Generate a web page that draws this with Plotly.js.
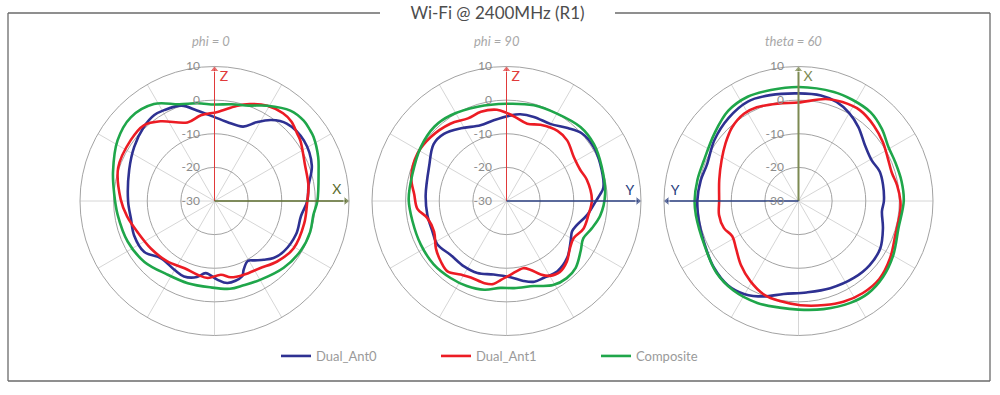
<!DOCTYPE html>
<html><head><meta charset="utf-8">
<script src="https://cdn.plot.ly/plotly-3.0.1.min.js"></script>
<style>html,body{margin:0;padding:0;background:#fff}#chart{width:1000px;height:395px}</style>
</head><body><div id="chart"></div>
<script>
// ---------- data (dB, angle in degrees clockwise from the top of each plot) ----------
const SERIES_NAMES = ['Dual_Ant0', 'Dual_Ant1', 'Composite'];
const PANEL_TITLES = ['phi = 0', 'phi = 90', 'theta = 60'];
const RADIAL_TICKS = [-30, -20, -10, 0, 10];
const R_MIN = -30, R_MAX = 10;

// phi = 0
const p1_ant0_theta = [9,21,28,35,43,56,70,81,90,100,112,126,134,140,146,151,157,160,171,178,187,193,202,210,223,234,247,258,270,290,304,316,325,331,341,349,357];
const p1_ant0_r     = [-6.2,-6.3,-3.5,-0.6,1.5,2.1,0.8,-1.7,-2.4,-3.9,-3.8,-4.5,-5.6,-7.2,-8.7,-9.6,-7.8,-6.1,-5.3,-6.6,-8.4,-6.8,-5.8,-6.3,-6.7,-4.2,-4.0,-4.6,-4.3,-3.0,-1.2,0.4,1.2,0.9,0.0,-2.6,-4.5];
const p1_ant1_theta = [2,13,20,29,38,44,51,55,68,81,90,104,121,134,146,158,168,175,185,193,204,218,233,248,260,271,289,306,317,326,341,351];
const p1_ant1_r     = [-3.5,-1.0,0.7,2.4,3.1,2.9,1.7,1.2,-1.0,-1.7,-2.4,-2.5,-2.6,-4.1,-5.9,-6.4,-6.8,-8.0,-7.0,-7.5,-8.1,-7.2,-6.4,-5.3,-3.6,-2.1,0.3,0.8,0.8,-1.4,-5.3,-4.2];
const p1_comp_theta = [0,10,20,29,40,48,53,57,67,74,90,98,108,120,134,150,161,170,183,198,213,229,245,262,274,286,302,315,328,340,350];
const p1_comp_r     = [-1.3,-0.8,0.2,2.4,5.1,5.7,5.4,5.1,3.5,2.2,0.6,-0.3,-0.1,-0.4,-1.4,-2.9,-3.5,-3.5,-4.3,-4.3,-4.0,-2.4,-1.5,-0.9,-0.1,1.4,4.0,5.2,4.0,0.6,-0.5];

// phi = 90
const p2_ant0_theta = [3,9,18,30,40,48,58,68,82,86,90,100,109,115,122,133,144,154,161,168,177,190,202,213,226,238,248,260,274,294,308,317,328,341,351];
const p2_ant0_r     = [-4.5,-3.9,-3.7,-3.6,-1.7,0.1,0.5,0.0,-0.9,-2.1,-3.4,-5.7,-7.9,-8.5,-7.5,-5.3,-4.2,-4.6,-4.6,-5.7,-7.3,-7.8,-6.9,-6.8,-6.9,-5.7,-6.2,-6.1,-5.9,-4.8,-2.5,-2.7,-4.5,-6.2,-5.7];
const p2_ant1_theta = [0,6,15,24,36,45,57,67,75,89,100,110,119,127,135,143,150,155,161,166,177,184,189,195,205,212,220,227,236,247,258,265,274,284,298,310,324,335,344,354];
const p2_ant1_r     = [-3.8,-4.9,-6.2,-5.2,-4.2,-4.5,-6.1,-6.2,-5.3,-4.6,-5.3,-5.7,-7.2,-6.4,-4.6,-3.6,-4.3,-5.9,-8.4,-9.4,-8.0,-6.5,-5.0,-4.7,-4.9,-4.2,-2.7,-3.4,-4.7,-6.6,-5.9,-3.4,-2.5,-0.8,0.0,-0.5,-1.6,-2.9,-2.4,-2.7];
const p2_comp_theta = [0,16,30,45,57,70,86,99,108,116,124,134,142,151,162,175,184,194,205,216,229,243,258,271,286,302,316,327,343];
const p2_comp_r     = [-1.1,-0.4,0.0,1.1,1.0,0.1,-0.6,-1.8,-3.4,-4.6,-3.4,-1.4,-0.9,-1.4,-3.4,-4.0,-4.1,-2.8,-2.1,-1.7,-1.3,-1.4,-1.4,-0.9,-0.9,0.1,0.8,0.4,-0.7];

// theta = 60
const p3_ant0_theta = [0,12,21,30,39,50,61,70,79,90,97,108,120,132,144,160,175,189,200,210,220,232,243,258,270,282,292,306,320,333,345];
const p3_ant0_r     = [2.0,2.1,1.6,0.2,-1.7,-4.2,-5.1,-4.3,-4.4,-4.6,-5.0,-3.6,-1.9,-1.5,-1.8,-2.4,-2.7,-2.0,0.2,2.0,2.7,2.0,0.9,0.2,0.1,-0.3,-0.7,0.9,2.3,3.2,2.6];
const p3_ant1_theta = [0,15,24,34,45,55,64,73,81,90,96,109,122,134,145,156,166,179,190,200,211,222,233,242,250,260,270,285,298,308,318,328,336,348];
const p3_ant1_r     = [-0.7,1.4,2.2,2.6,1.7,0.6,-0.5,-1.0,-0.3,0.3,0.4,0.5,2.1,3.4,3.4,2.8,1.9,1.0,0.3,-0.3,-2.2,-4.4,-6.7,-7.7,-6.4,-6.0,-6.4,-5.6,-4.1,-2.4,-0.5,0.6,0.5,-0.4];
const p3_comp_theta = [0,18,28,39,49,59,68,79,90,105,120,132,143,153,167,180,190,202,216,229,245,262,270,282,293,309,322,334,346];
const p3_comp_r     = [3.9,4.1,4.1,4.0,2.8,1.2,1.0,1.2,1.3,0.8,2.5,3.8,4.4,4.0,3.0,2.3,2.2,2.7,2.9,2.4,0.9,0.8,0.9,0.7,0.6,2.1,4.0,4.5,4.0];

// ---------- styling ----------
const COLORS = ['#2e3192', '#ec1c24', '#1fa64a'];
const FONT = 'Lato, "Open Sans", sans-serif';
const W = 1000, H = 395;
const CENTERS_X = [214.5, 506.5, 798.5], CENTER_Y = 201, RADIUS = 134.5;
const PAD = '\u00a0'.repeat(4);

const panels = [
  {series: [[p1_ant0_theta,p1_ant0_r],[p1_ant1_theta,p1_ant1_r],[p1_comp_theta,p1_comp_r]],
   axes: [{theta: 0, color: '#e03a3a', label: 'Z', sym: 'triangle-up', w: 1, lt: 4.4, lr: 6.7},
          {theta: 90, color: '#5b6b2c', label: 'X', sym: 'triangle-right', w: 1.3, lt: 85.3, lr: 6.5}]},
  {series: [[p2_ant0_theta,p2_ant0_r],[p2_ant1_theta,p2_ant1_r],[p2_comp_theta,p2_comp_r]],
   axes: [{theta: 0, color: '#e03a3a', label: 'Z', sym: 'triangle-up', w: 1, lt: 4.3, lr: 6.7},
          {theta: 90, color: '#2b3f80', label: 'Y', sym: 'triangle-right', w: 1.3, lt: 85.4, lr: 6.8}]},
  {series: [[p3_ant0_theta,p3_ant0_r],[p3_ant1_theta,p3_ant1_r],[p3_comp_theta,p3_comp_r]],
   axes: [{theta: 0, color: '#7d8a52', label: 'X', sym: 'triangle-up', w: 2, lt: 4.4, lr: 6.7},
          {theta: 270, color: '#2b3f80', label: 'Y', sym: 'triangle-left', w: 1.3, lt: 274.6, lr: 6.8}]}
];

const close = a => a.concat([a[0]]);
const traces = [];
const layout = {
  width: W, height: H,
  margin: {l: 0, r: 0, t: 0, b: 0},
  paper_bgcolor: '#fff',
  font: {family: FONT, color: '#888'},
  showlegend: true,
  title: {text: 'Wi-Fi @ 2400MHz (R1)', x: 0.4975, xref: 'paper', xanchor: 'center',
          y: 1 - 13 / H, yref: 'paper', yanchor: 'middle',
          font: {family: FONT, size: 17, color: '#4d4d4d'}},
  legend: {orientation: 'h', x: 0.276, xanchor: 'left', y: 1 - 356 / H, yanchor: 'middle',
           font: {family: FONT, size: 13, color: '#9a9a9a'},
           entrywidth: 115, entrywidthmode: 'pixels', bgcolor: 'rgba(0,0,0,0)'},
  annotations: [],
  shapes: []
};

panels.forEach((p, i) => {
  const key = i === 0 ? 'polar' : 'polar' + (i + 1);
  const cx = CENTERS_X[i];
  layout[key] = {
    domain: {x: [(cx - RADIUS) / W, (cx + RADIUS) / W],
             y: [1 - (CENTER_Y + RADIUS) / H, 1 - (CENTER_Y - RADIUS) / H]},
    bgcolor: '#fff',
    radialaxis: {range: [R_MIN, R_MAX], tickvals: RADIAL_TICKS, ticktext: RADIAL_TICKS.map(t => String(t) + PAD),
                 angle: 90, side: 'counterclockwise', showline: false, ticks: '',
                 gridcolor: '#a3a3a3', gridwidth: 1, tickangle: 90,
                 tickfont: {family: FONT, size: 12, color: '#8c8c8c'}},
    angularaxis: {rotation: 90, direction: 'clockwise', dtick: 30, showticklabels: false, ticks: '',
                  gridcolor: '#d6d6d6', gridwidth: 1, linecolor: '#a3a3a3', linewidth: 1, showline: true}
  };
  p.series.forEach((s, j) => {
    traces.push({type: 'scatterpolar', subplot: key, name: SERIES_NAMES[j], legendgroup: SERIES_NAMES[j],
                 showlegend: i === 0, mode: 'lines', theta: close(s[0]), r: close(s[1]),
                 line: {color: COLORS[j], width: 2.6, shape: 'spline', smoothing: 1}, hoverinfo: 'skip'});
  });
  p.axes.forEach(a => {
    traces.push({type: 'scatterpolar', subplot: key, showlegend: false, mode: 'lines+markers',
                 theta: [a.theta, a.theta], r: [R_MIN, R_MAX - 0.9], cliponaxis: false,
                 line: {color: a.color, width: a.w},
                 marker: {color: a.color, size: [0, 8], symbol: ['circle', a.sym]}, hoverinfo: 'skip'});
    traces.push({type: 'scatterpolar', subplot: key, showlegend: false, mode: 'text',
                 theta: [a.lt], r: [a.lr], text: [a.label], textposition: 'middle center', cliponaxis: false,
                 textfont: {family: FONT, size: 14, color: a.color}, hoverinfo: 'skip'});
  });
  layout.annotations.push({text: PANEL_TITLES[i], x: [211, 497, 793][i] / W, y: 1 - 41 / H,
                           xref: 'paper', yref: 'paper', showarrow: false, xanchor: 'center', yanchor: 'middle',
                           font: {family: FONT, size: 13, color: '#a8a8a8', style: 'italic'}});
});

// frame around the figure, broken by the title
const fx0 = 8 / W, fx1 = 990 / W, fy0 = 1 - 381 / H, fy1 = 1 - 13 / H;
const frameLine = {color: '#6a6a6a', width: 1.3};
[[fx0, fy0, fx0, fy1], [fx1, fy0, fx1, fy1], [fx0, fy0, fx1, fy0],
 [fx0, fy1, 380 / W, fy1], [615 / W, fy1, fx1, fy1]].forEach(c => {
  layout.shapes.push({type: 'line', xref: 'paper', yref: 'paper', x0: c[0], y0: c[1], x1: c[2], y1: c[3], line: frameLine});
});

Plotly.newPlot('chart', traces, layout, {staticPlot: true, displayModeBar: false});
</script>
</body></html>
